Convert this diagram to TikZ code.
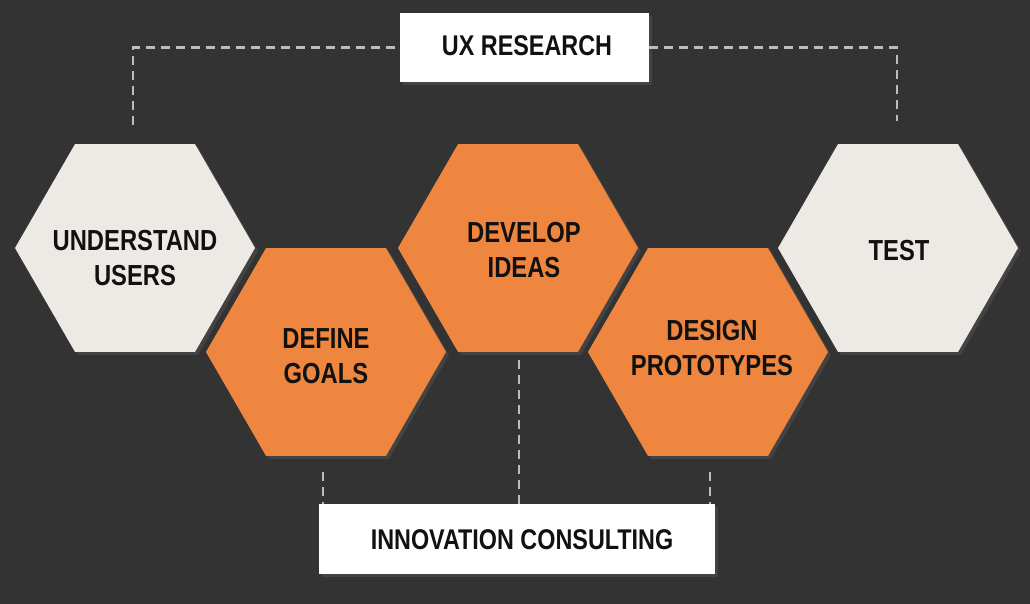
\documentclass[tikz,border=0pt]{standalone}
\usepackage{fontspec}
\setmainfont{Liberation Sans}[FakeStretch=0.82]
\usetikzlibrary{shapes.geometric,shadows}
\definecolor{bg}{HTML}{333333}
\definecolor{orng}{HTML}{EE8640}
\definecolor{lite}{HTML}{EDEAE6}
\definecolor{dashc}{HTML}{BDBDBD}
\definecolor{ink}{HTML}{111111}
\tikzset{
  hexbox/.style={regular polygon, regular polygon sides=6, minimum size=240pt, inner sep=0pt, draw=none,
     drop shadow={opacity=0.22, shadow xshift=3pt, shadow yshift=-3pt}},
  hexlite/.style={hexbox, fill=lite},
  hexorng/.style={hexbox, fill=orng},
  lbl/.style={font=\fontsize{29}{35}\selectfont\bfseries, text=ink, align=center, inner sep=0pt},
  tagbox/.style={fill=white, draw=none, inner sep=0pt,
     drop shadow={opacity=0.22, shadow xshift=3pt, shadow yshift=-3pt}},
  conn/.style={dashc, line width=2.5pt, dash pattern=on 9pt off 6pt}
}
\begin{document}
\begin{tikzpicture}[x=1pt, y=-1pt]
\fill[bg] (0,0) rectangle (1030,604);
\useasboundingbox (0,0) rectangle (1030,604);

% hexagons
\node[hexlite] (h1) at (135,248) {};
\node[hexorng] (h2) at (326,352) {};
\node[hexorng] (h3) at (518,248) {};
\node[hexorng] (h4) at (708,352) {};
\node[hexlite] (h5) at (898,248) {};

% labels
\node[lbl] (t1) at (135,258) {UNDERSTAND\\USERS};
\node[lbl] (t2) at (326,356) {DEFINE\\GOALS};
\node[lbl] (t3) at (524,250) {DEVELOP\\IDEAS};
\node[lbl] (t4) at (712,348) {DESIGN\\PROTOTYPES};
\node[lbl] (t5) at (899,251) {TEST};

% boxes
\node[tagbox, minimum width=249pt, minimum height=69pt] (ux) at (524.5,47.5) {};
\node[lbl, font=\fontsize{28.5}{34}\selectfont\bfseries] (uxt) at (527,46) {UX RESEARCH};
\node[tagbox, minimum width=396pt, minimum height=70pt] (ic) at (517,539) {};
\node[lbl, font=\fontsize{28.5}{34}\selectfont\bfseries] (ict) at (522,540) {INNOVATION CONSULTING};

% connector anchors
\coordinate (a1) at (133,125);
\coordinate (a5) at (897,121);
\coordinate (b2) at (323,472);
\coordinate (b3) at (519,360);
\coordinate (b4) at (710,472);

\draw[conn] (a1) |- (ux.west);
\draw[conn] (ux.east) -| (a5);
\draw[conn] (b2) -- (b2 |- ic.north);
\draw[conn] (b3) -- (b3 |- ic.north);
\draw[conn] (b4) -- (b4 |- ic.north);
\end{tikzpicture}
\end{document}
